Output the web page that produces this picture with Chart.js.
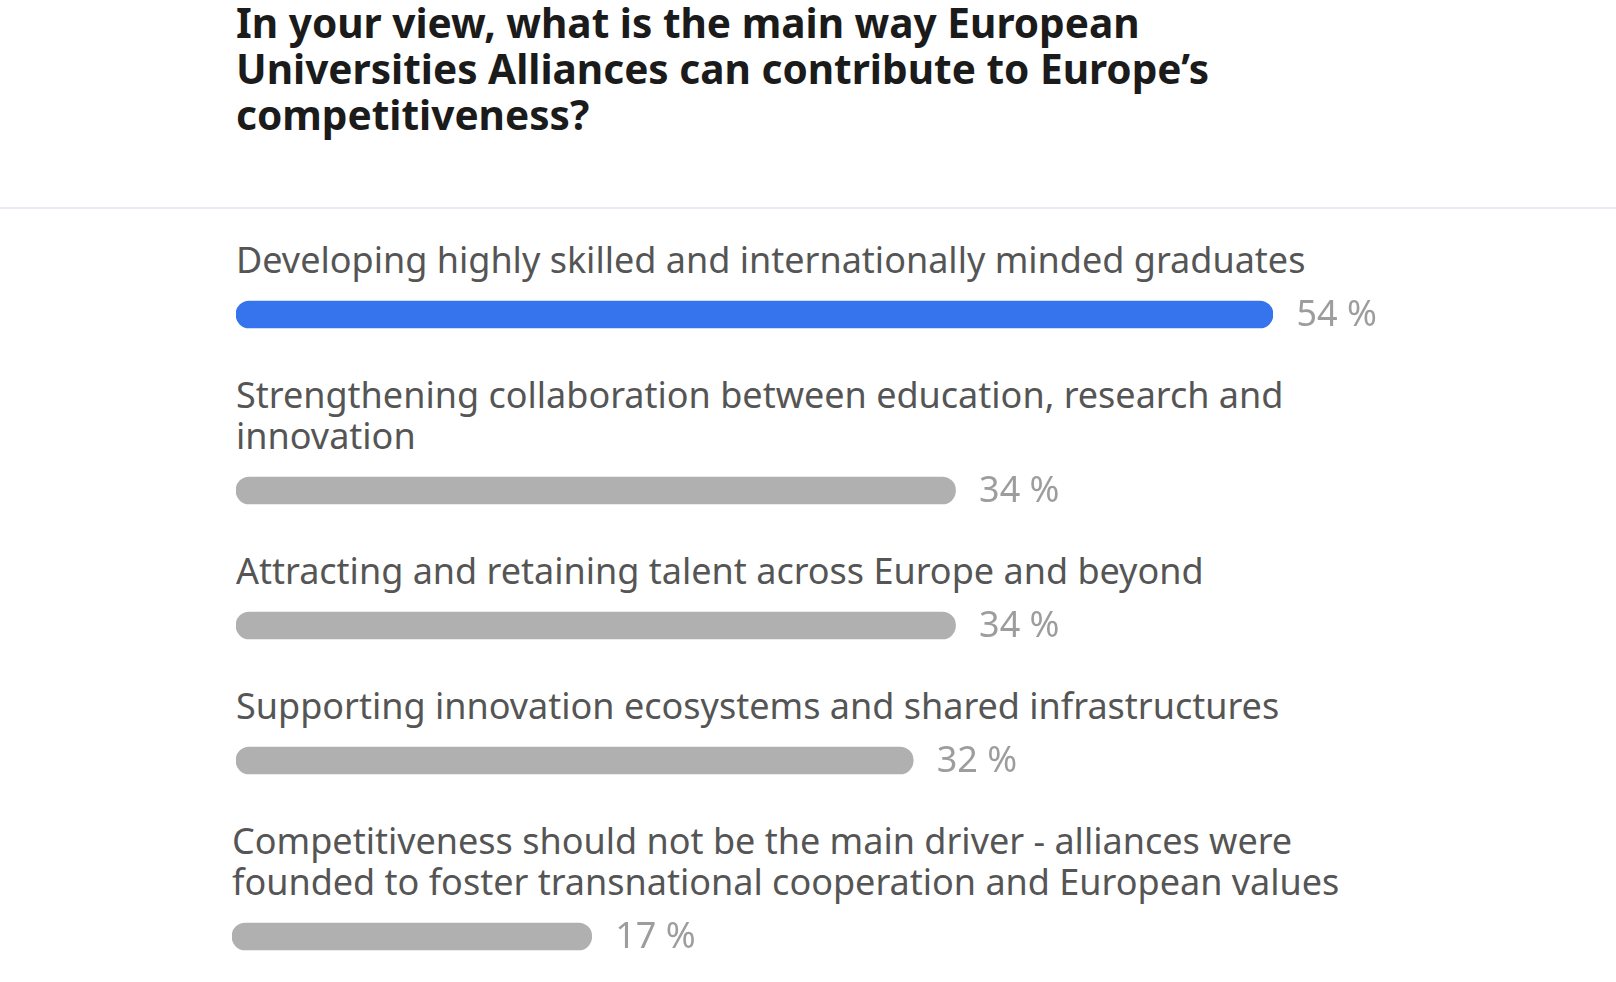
<!DOCTYPE html>
<html>
<head>
<meta charset="utf-8">
<script src="https://cdn.jsdelivr.net/npm/chart.js@4"></script>
<style>
  html, body { margin: 0; padding: 0; background: #fff; }
  body { width: 1616px; height: 982px; overflow: hidden; font-family: 'Noto Sans', sans-serif; }
  .title {
    margin: 0 0 0 236px;
    font-size: 40.6px; line-height: 46px; font-weight: 700; color: #1b1b1b;
  }
  .divider { height: 2px; background: #e5ecf4; margin-top: 69px; }
  #rows { padding-top: 30px; }
  .row { margin-left: 236px; width: 1140px; }
  .row.last { margin-left: 232px; }
  .label { font-size: 36px; line-height: 41px; color: #555; }
  .bar-wrap { height: 69px; margin-bottom: 25px; }
</style>
</head>
<body>
<div class="title">In your view, what is the main way European<br>Universities Alliances can contribute to Europe’s<br>competitiveness?</div>
<div class="divider"></div>
<div id="rows"></div>

<script>
const categories = [
  'Developing highly skilled and internationally minded graduates',
  'Strengthening collaboration between education, research and innovation',
  'Attracting and retaining talent across Europe and beyond',
  'Supporting innovation ecosystems and shared infrastructures',
  'Competitiveness should not be the main driver - alliances were founded to foster transnational cooperation and European values',
];
const values = [54, 34, 34, 32, 17];

// bar track is full at ~49 %, the top answer just fills it
const axisMax = 49;
const topValue = Math.max(...values);

const pctLabel = {
  id: 'pctLabel',
  afterDatasetsDraw(chart, args, opts) {
    const ctx = chart.ctx;
    const bar = chart.getDatasetMeta(0).data[0];
    ctx.save();
    ctx.font = '36px "Noto Sans"';
    ctx.fillStyle = '#9d9d9d';
    ctx.textBaseline = 'middle';
    ctx.fillText(opts.text, bar.x + 23.5, bar.y + 1);
    ctx.restore();
  }
};

const rows = document.getElementById('rows');

categories.forEach((cat, i) => {
  const row = document.createElement('div');
  row.className = 'row' + (i === categories.length - 1 ? ' last' : '');
  const label = document.createElement('div');
  label.className = 'label';
  label.textContent = cat;
  const wrap = document.createElement('div');
  wrap.className = 'bar-wrap';
  const canvas = document.createElement('canvas');
  canvas.width = 1187;
  canvas.height = 69;
  wrap.appendChild(canvas);
  row.appendChild(label);
  row.appendChild(wrap);
  rows.appendChild(row);

  new Chart(canvas.getContext('2d'), {
    type: 'bar',
    data: {
      labels: [cat],
      datasets: [{
        data: [Math.min(values[i], axisMax)],
        backgroundColor: values[i] === topValue ? '#3674ee' : '#b0b0b0',
        barThickness: 27,
        borderRadius: 14,
        borderSkipped: false,
      }]
    },
    options: {
      indexAxis: 'y',
      responsive: false,
      animation: false,
      layout: { padding: { right: 150 } },
      plugins: {
        legend: { display: false },
        tooltip: { enabled: false },
        pctLabel: { text: values[i] + ' %' },
      },
      scales: {
        x: { display: false, min: 0, max: axisMax },
        y: { display: false },
      },
    },
    plugins: [pctLabel],
  });
});
</script>
</body>
</html>
